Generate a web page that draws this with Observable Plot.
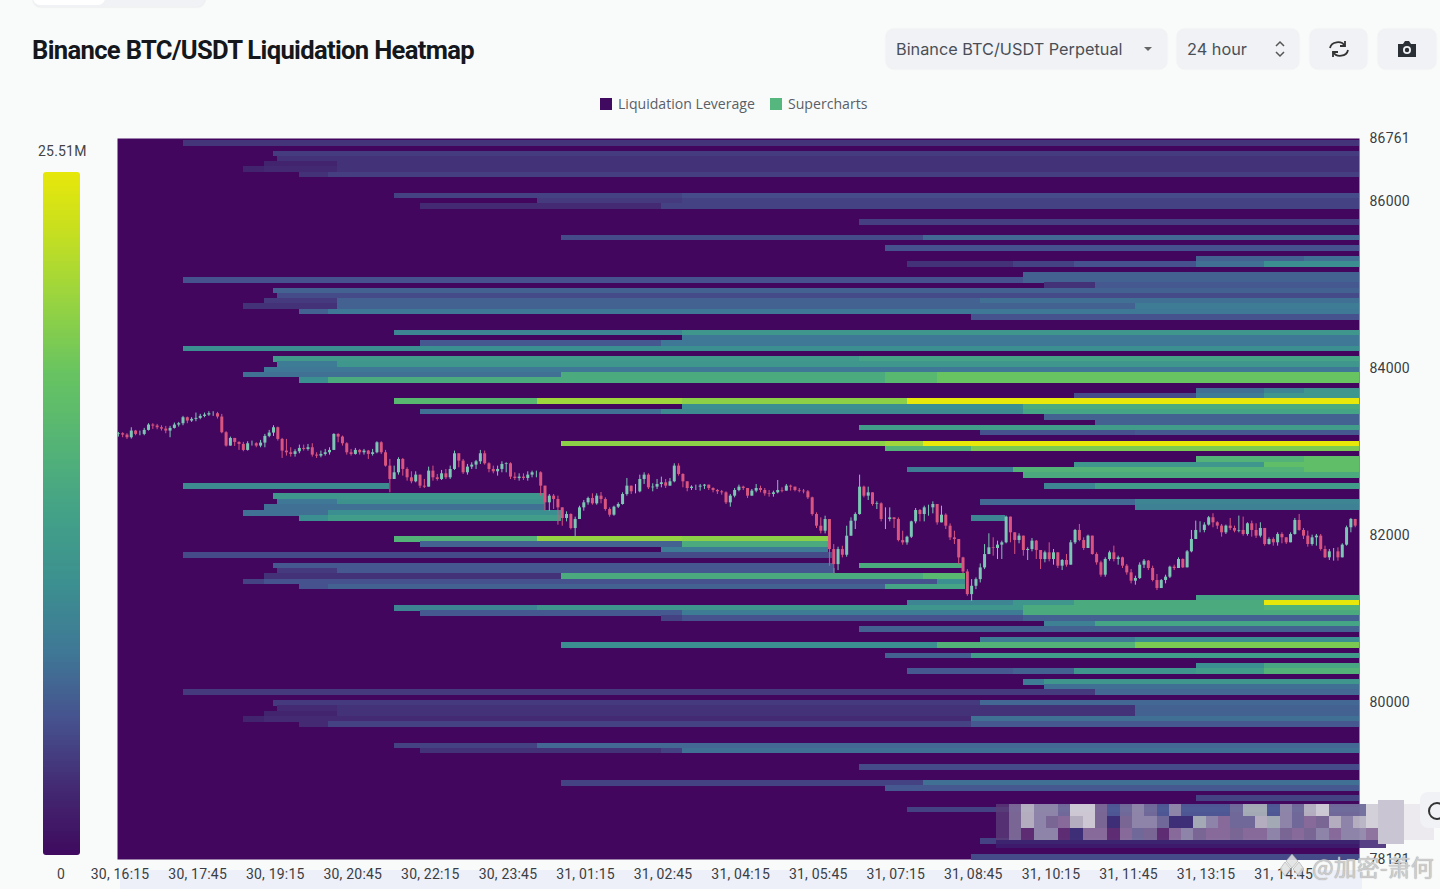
<!DOCTYPE html>
<html><head><meta charset="utf-8">
<script src="https://cdn.jsdelivr.net/npm/d3@7"></script>
<script src="https://cdn.jsdelivr.net/npm/@observablehq/plot@0.6"></script>
<style>
html,body{margin:0;padding:0;background:#f9fbfb;overflow:hidden}
#page{position:relative;width:1440px;height:889px;overflow:hidden;font-family:Roboto,sans-serif}
.abs{position:absolute}
#strip{left:120px;top:870px;width:1242px;height:19px;background:#eef0f9}
#chart{left:0;top:0}
#chart svg{display:block;background:transparent;overflow:visible}
#title{left:32px;top:34px;font:700 25.6px/32px Roboto,sans-serif;color:#14171c;letter-spacing:-.67px;white-space:nowrap}
.ctl{background:#f0f2f5;border-radius:8px;box-shadow:0 0 2px rgba(0,0,0,.08);height:40px;top:29px}
.ctl span{position:absolute;top:9px;font:400 16.3px/22px Inter,Roboto,sans-serif;color:#4a4f57;white-space:nowrap}
.lg{top:96px;font:400 14.1px/16px "Open Sans",Roboto,sans-serif;color:#5a5f66;white-space:nowrap}
.sq{top:98px;width:12px;height:12px}
#cbar{left:43px;top:172px}
#cbar svg{display:block;border-radius:3px;background:transparent}
.cb{font:400 14px/16px Roboto,sans-serif;color:#444;letter-spacing:.2px;white-space:nowrap}
#mosaic{left:1009px;top:804px;display:grid;grid-auto-rows:12px;opacity:.96}
#mark{left:1312px;top:851px;font:400 23px/30px "Noto Sans CJK SC",sans-serif;color:rgba(215,215,215,.85);text-shadow:0 0 1px #888;white-space:nowrap}
</style></head><body>
<div id="page">
<div class="abs" id="strip"></div>
<div class="abs" style="left:33px;top:-14px;width:172px;height:21px;background:#f0f2f5;border-radius:8px;box-shadow:0 0 2px rgba(0,0,0,.12)"><div style="width:72px;height:19px;background:#fff;border-radius:7px"></div></div>
<div class="abs" id="chart"></div>
<div class="abs" id="title">Binance BTC/USDT Liquidation Heatmap</div>
<div class="abs ctl" style="left:886px;width:281px"><span style="left:10px">Binance BTC/USDT Perpetual</span>
<svg class="abs" style="left:257px;top:17px" width="10" height="6"><path d="M1 1h8l-4 4z" fill="#666"/></svg></div>
<div class="abs ctl" style="left:1177px;width:122px"><span style="left:10px">24 hour</span>
<svg class="abs" style="left:97px;top:10px" width="12" height="20" fill="none" stroke="#555" stroke-width="1.5"><path d="M2 7l4-4 4 4M2 13l4 4 4-4"/></svg></div>
<div class="abs ctl" style="left:1310px;width:57px"><svg class="abs" style="left:18px;top:10px" width="22" height="20" fill="none" stroke="#333" stroke-width="1.8"><path d="M2 9a8 7 0 0 1 15-2M20 11a8 7 0 0 1-15 2"/><path d="M17 2v5h-5M5 18v-5h5"/></svg></div>
<div class="abs ctl" style="left:1378px;width:58px"><svg class="abs" style="left:19px;top:11px" width="20" height="18"><path d="M1 4h5l2-3h4l2 3h5v13H1z" fill="#2b2f36"/><circle cx="10" cy="10" r="4" fill="#f0f2f5"/><circle cx="10" cy="10" r="2.2" fill="#2b2f36"/></svg></div>
<div class="abs sq" style="left:600px;background:#3f0a5f"></div><div class="abs lg" style="left:618px">Liquidation Leverage</div>
<div class="abs sq" style="left:770px;background:#55b67e"></div><div class="abs lg" style="left:788px">Supercharts</div>
<div class="abs cb" style="left:38px;top:143px">25.51M</div>
<div class="abs cb" style="left:57px;top:866px">0</div>
<div class="abs" id="cbar"></div>
<div class="abs" style="left:996px;top:840px;width:390px;height:8px;background:rgba(60,30,110,.85)"></div>
<div class="abs" style="left:996px;top:804px;width:13px;height:36px;background:rgba(90,60,120,.8)"></div>
<div class="abs" id="mosaic"></div>
<div class="abs" style="left:1378px;top:800px;width:26px;height:44px;background:#c9c5d3"></div>
<div class="abs" style="left:1404px;top:804px;width:30px;height:36px;background:#eceaee"></div>
<div class="abs" style="left:1420px;top:792px;width:30px;height:36px;background:#f0f2f5;border-radius:8px"></div>
<svg class="abs" style="left:1427px;top:801px" width="13" height="20" fill="none" stroke="#333" stroke-width="2"><circle cx="10" cy="10" r="8"/></svg>
<svg class="abs" style="left:1280px;top:853px" width="24" height="24" fill="rgba(225,225,225,.85)" stroke="#999" stroke-width=".5"><path d="M12 1l6 7-6 7-6-7zM5 9l6 7-6 7-5-7zM19 9l5 7-5 7-6-7z"/></svg>
<div class="abs" id="mark">@加密-萧何</div>
</div>
<script>
// time axis: minutes after 30 Mar 16:15 (UTC)
const originTime = Date.UTC(2025, 2, 30, 16, 15);
const windowStart = -3, windowEnd = 1438;
const tickMinutes = [0,90,180,270,360,450,540,630,720,810,900,990,1080,1170,1260,1350];
const priceTicks = [86761,86000,84000,82000,80000,78121];
const priceRowHeight = 66;

// colour ramp of the liquidation scale (M)
const colorStops = [0,2.5,5,7.5,10,12.5,15,18,21,23.5,25.51];
const colorRamp = ["#3f0a5f","#432a72","#46528e","#3f7796","#3c8f90","#42a088","#52b278","#68c460","#9ed63c","#cbe01c","#e8e80a"];

// heat rows: top price of the row, then [minute, level(M), minute, level...] held until the next step
const rowTops = [86737,86611,86547,86484,86421,86358,86105,86042,85979,85789,85600,85474,85347,85284,85158,85095,85031,84968,84905,84842,84779,84716,84652,84463,84400,84337,84273,84147,84084,84021,83958,83894,83768,83705,83642,83578,83515,83452,83389,83326,83263,83136,83073,82947,82884,82820,82757,82622,82502,82430,82374,82302,82242,81991,81931,81862,81799,81671,81607,81547,81479,81419,81287,81229,81164,81104,81044,80975,80912,80784,80720,80592,80468,80408,80277,80217,80157,80025,79965,79897,79833,79773,79513,79456,79258,79066,79006,78886,78746,78371,78179];
const rowSteps = [
[73,3.2],[178,3.6],[183,3],[168,2,252,3],[143,2,168,2.4,252,3],[208,3,242,3.8],
[318,4,653,4.6],[484,3.5,653,4],[348,2.5,628,4],[858,3.8],[512,4.5,932,6.5],[888,5],
[1249,6,1374,7],[913,3,1037,4,1107,5,1249,7,1328,10],[1048,6],[73,5,1048,6],[1073,3,1132,5.5],
[178,6],[183,4.5],[168,3.5,252,6,998,7],[143,3,252,6,1178,8],[208,6,242,7.5],[988,5],
[318,9,653,11],[653,7.5],[348,5.5,628,7.5],[73,10],[178,11.5,858,13],[183,8,252,11],[168,7.5],
[143,7,512,14,888,16,948,18],[208,10,242,14,888,16,948,18],[1249,7,1328,9,1374,11],[1107,4.5,1249,8,1328,11],
[318,16,484,21,653,20,913,25.5],[653,10,1048,14],[348,7,628,9.5,1048,13],[1073,6],[1132,6],[858,12],[998,5,1178,5.5],
[512,20,888,21,932,25.5],[888,15,988,19],[1249,15,1374,17],[1107,11,1328,17],[913,8,1037,15,1374,17],[1048,14],
[73,9.5,313,0,1073,9,1132,12],[178,11,493,0],[183,7.5,252,10.5,493,0,998,6.5,1178,9],[168,7,493,0,1178,8.5],
[143,7,242,10,512,0],[208,10,242,12,512,0,988,9,1027,0],[318,15,484,20.5,653,20,822,0],[348,6,653,14,822,0],[628,8,822,0],
[73,4.5,826,0],[178,5.5,828,0,858,14,977,0],[183,3.5,252,5.5,830,0],[168,3,512,14,932,16,981,0],[143,4,168,5,948,10,981,0],[208,5,242,6,888,13,981,0],
[1249,13],[913,9,1037,11,1107,14,1328,25.5],[318,9,484,11,1048,14,1328,15],[348,5.5,653,8,1048,14],[628,4,653,5,1048,6],
[1073,8.5,1132,13],[858,6],[998,8,1178,10],[512,10,948,15,1178,19],[888,6,988,12],[1249,10,1328,13.5],[913,5.5,1037,6,1107,11,1249,12,1328,15],
[1048,8,1073,11],[1073,7],[73,3.5,1132,6.5],[178,3.5,998,6.5],[183,2.5,252,3,1178,6],[168,2,252,3,1178,6],[143,2,168,2.5,988,7],[208,2.5,242,4,988,5.5],
[318,4,484,6.5],[348,3,628,4,653,7],[858,4.5],[512,4,932,7],[888,5.5],[1249,4],[913,4],[998,4],[988,4.5]
];

// 5-minute candles
const candleClose = [83223,83207,83175,83255,83215,83215,83263,83327,83315,83295,83279,83255,83287,83327,83343,83415,83375,83395,83407,83431,83447,83463,83463,83423,83235,83075,83167,83119,83095,83023,83103,83103,83075,83111,83191,83231,83295,83155,83015,82995,82975,83007,83047,83035,83055,82967,82955,82975,82995,83023,83215,83183,83103,82995,82975,83023,82995,83015,82975,82995,83115,82995,82835,82675,82755,82915,82795,82695,82647,82727,82595,82583,82775,82695,82675,82743,82695,82795,82983,82895,82755,82823,82847,82887,82983,82863,82795,82767,82795,82855,82863,82703,82687,82703,82687,82727,82755,82755,82595,82395,82475,82435,82335,82207,
82255,82087,82195,82335,82395,82447,82383,82475,82435,82315,82247,82343,82375,82495,82595,82527,82527,82675,82727,82575,82583,82615,82635,82595,82647,82835,82735,82647,82567,82583,82583,82595,82607,82567,82543,82527,82515,82395,82475,82543,82583,82567,82475,82535,82567,82543,82503,82495,82515,82543,82535,82595,82583,82543,82535,82527,82455,82255,82115,82055,82195,81835,81655,81835,81767,81995,82175,82255,82583,82475,82515,82375,82383,82195,82195,82215,82195,81943,81915,81983,82167,82303,82255,82335,82335,82375,82155,82247,82115,81975,81955,81735,81567,81295,81395,81475,81615,81775,
81856,81848,81888,81916,82224,82036,81944,81996,81824,81836,81936,81824,81716,81796,81716,81796,81636,81704,81648,81916,82064,81944,81848,81996,81776,81676,81528,81716,81796,81716,81736,81636,81556,81456,81488,81648,81696,81608,81464,81368,81464,81504,81624,81608,81716,81616,81808,81956,82064,82064,82128,82216,82156,82116,82036,82116,82088,82056,82064,82016,82144,82064,81996,82088,81896,81956,81916,82016,81976,81916,82016,82184,82064,81996,81896,81976,81996,81836,81736,81808,81808,81736,81888,82096,82196,82116];
const candleHigh = [83239,83235,83223,83295,83263,83255,83287,83343,83343,83335,83319,83311,83311,83351,83359,83431,83423,83415,83471,83455,83471,83487,83487,83479,83455,83247,83183,83167,83127,83119,83127,83135,83115,83143,83215,83263,83319,83303,83167,83155,83055,83031,83087,83087,83095,83103,82995,83015,83035,83055,83223,83223,83195,83115,83035,83047,83035,83035,83023,83035,83127,83127,83023,82915,82835,82935,82927,82815,82767,82767,82715,82675,82823,82835,82735,82783,82795,82835,83015,82975,82915,82855,82875,82903,83023,83015,82875,82835,82835,82887,82875,82875,82755,82743,82743,82767,82775,82775,82767,82515,82495,82495,82475,82335,
82287,82263,82223,82355,82423,82463,82503,82503,82519,82455,82335,82355,82395,82515,82687,82583,82615,82727,82755,82743,82623,82675,82703,82675,82687,82863,82863,82743,82647,82599,82607,82615,82615,82607,82575,82555,82543,82527,82495,82567,82607,82595,82567,82555,82615,82595,82567,82543,82535,82663,82575,82615,82607,82583,82567,82555,82543,82463,82275,82215,82235,82195,81895,81863,81875,82115,82215,82275,82727,82595,82583,82515,82407,82395,82335,82335,82215,82215,82055,81995,82175,82327,82315,82355,82367,82407,82367,82355,82263,82143,82055,81955,81743,81595,81475,81495,81663,81895,
82024,81976,81936,81936,82236,82156,82024,82024,81984,81856,81968,81944,81824,81816,81916,81836,81736,81716,81776,81944,82076,82136,81976,82008,81996,81796,81696,81736,81816,81876,81756,81744,81656,81596,81516,81676,81716,81704,81636,81536,81476,81528,81636,81648,81736,81724,81824,82064,82176,82168,82156,82232,82264,82168,82136,82128,82208,82116,82236,82224,82156,82176,82144,82156,82088,81976,81976,82036,82036,81976,82036,82208,82256,82088,82056,82008,82016,82016,81876,81836,81848,81856,81904,82116,82208,82196];
const candleLow = [83183,83175,83155,83159,83199,83199,83199,83255,83275,83271,83255,83223,83175,83279,83303,83319,83343,83359,83367,83391,83415,83431,83431,83399,83223,83063,83095,83071,83023,83007,83015,83075,83055,83055,83055,83175,83191,83135,82927,82955,82943,82943,82983,83015,83015,82943,82927,82935,82955,82967,83023,83115,83075,82967,82955,82967,82967,82967,82915,82955,82983,82975,82823,82515,82675,82727,82715,82655,82623,82635,82567,82567,82595,82655,82655,82663,82675,82675,82783,82815,82735,82727,82795,82795,82855,82847,82755,82743,82715,82755,82755,82675,82663,82655,82663,82655,82695,82695,82475,82295,82295,82315,82127,82115,
82167,82071,81983,82195,82295,82367,82367,82367,82383,82295,82223,82235,82327,82367,82475,82495,82503,82515,82615,82555,82527,82555,82575,82567,82615,82635,82715,82575,82527,82543,82543,82535,82555,82543,82515,82495,82487,82375,82343,82455,82527,82543,82447,82475,82515,82515,82475,82463,82463,82503,82515,82535,82535,82527,82515,82503,82435,82235,82087,82023,82023,81635,81535,81583,81735,81743,82007,82075,82247,82455,82423,82355,82315,82167,82075,82167,82087,81927,81887,81887,81967,82143,82167,82167,82235,82263,82127,82175,82075,81943,81895,81655,81543,81275,81215,81355,81435,81595,
81776,81756,81716,81716,81904,81916,81776,81904,81756,81704,81808,81716,81596,81676,81688,81648,81608,81584,81624,81664,81896,81928,81824,81848,81768,81648,81504,81504,81696,81688,81648,81608,81528,81424,81408,81476,81608,81584,81448,81344,81384,81424,81488,81584,81616,81608,81704,81796,81956,82036,82036,82116,82096,82076,81984,82016,82064,82036,82036,81996,81996,81984,81968,81976,81876,81888,81876,81876,81904,81896,81916,82008,82056,81956,81864,81876,81876,81816,81728,81704,81696,81696,81736,81876,82036,82096];
const firstOpen = 83215;

if (candleClose.length !== candleHigh.length || candleClose.length !== candleLow.length || rowTops.length !== rowSteps.length)
  throw new Error(`lengths ${candleClose.length} ${candleHigh.length} ${candleLow.length} ${rowTops.length} ${rowSteps.length}`);

const toTime = m => new Date(originTime + m * 60000);
const heatCells = [];
rowTops.forEach((top, r) => {
  const s = rowSteps[r];
  for (let i = 0; i < s.length; i += 2) {
    if (s[i + 1] === 0) continue;
    heatCells.push({t1: toTime(s[i]), t2: toTime(i + 2 < s.length ? s[i + 2] : windowEnd), p1: top, p2: top - priceRowHeight, v: s[i + 1]});
  }
});
const candles = candleClose.map((c, i) => {
  const o = i ? candleClose[i - 1] : firstOpen;
  return {t: toTime(5 * i - 2), o, c, h: Math.max(candleHigh[i], o, c), l: Math.min(candleLow[i], o, c), up: c >= o};
});
const candleFill = d => d.up ? "#7cc7b4" : "#d9557f";
const colorScale = {type: "linear", domain: colorStops, range: colorRamp, interpolate: "rgb"};

const chart = Plot.plot({
  width: 1440, height: 889,
  marginLeft: 117, marginRight: 81, marginTop: 138, marginBottom: 30,
  style: {background: "transparent", fontFamily: "Roboto, sans-serif", fontSize: "14px", color: "#3a3d42", letterSpacing: ".2px"},
  x: {type: "utc", domain: [toTime(windowStart), toTime(windowEnd)]},
  y: {domain: [78121, 86761]},
  color: colorScale,
  marks: [
    Plot.frame({fill: "#42065f", stroke: null}),
    Plot.rect(heatCells, {x1: "t1", x2: "t2", y1: "p1", y2: "p2", fill: "v", shapeRendering: "crispEdges"}),
    Plot.ruleX(candles, {x: "t", y1: "l", y2: "h", stroke: candleFill, strokeWidth: 1}),
    Plot.ruleX(candles, {x: "t", y1: "o", y2: "c", stroke: candleFill, strokeWidth: 3}),
    Plot.axisX({anchor: "bottom", ticks: tickMinutes.map(toTime), tickSize: 0, tickPadding: 10, tickFormat: d3.utcFormat("%d, %H:%M"), label: null, fill: "#3a3d42"}),
    Plot.axisY({anchor: "right", ticks: priceTicks, tickSize: 0, tickPadding: 10, tickFormat: d => String(d), label: null, fill: "#3a3d42"})
  ]
});
document.getElementById("chart").append(chart);

// colour bar: legend steps run through the same scale
const legendSteps = d3.range(0, 25.51, 0.1);
const bar = Plot.plot({
  width: 37, height: 683, margin: 0,
  style: {background: "transparent"},
  x: {axis: null, domain: [0, 1]},
  y: {axis: null, domain: [0, 25.51]},
  color: colorScale,
  marks: [Plot.rect(legendSteps, {x1: 0, x2: 1, y1: d => d, y2: d => d + 0.12, fill: d => d, shapeRendering: "crispEdges"})]
});
document.getElementById("cbar").append(bar);

// pixelated patch that hides part of the picture
const mosaicPalette = {a:"#b9b4c4",b:"#9289ab",c:"#716d9c",d:"#4f5b96",e:"#a9b1b9",f:"#7c6a98",g:"#3e2f78",h:"#d3cfd8",i:"#5f2e73",j:"#8a6f9c"};
const mosaicRows = ["fabbchhfdcbcdbddddceedbcahccch","fabfjahfgfbbcggebjccaebcjfabah","fibbigjjijcfijbfjjfjjbfjfbjbbj"];
const mosaic = document.getElementById("mosaic");
mosaicRows.forEach(row => [...row].forEach(k => {
  const cell = document.createElement("div");
  cell.style.background = mosaicPalette[k];
  mosaic.append(cell);
}));
mosaic.style.gridTemplateColumns = "repeat(30,12.3px)";
</script>
</body></html>
